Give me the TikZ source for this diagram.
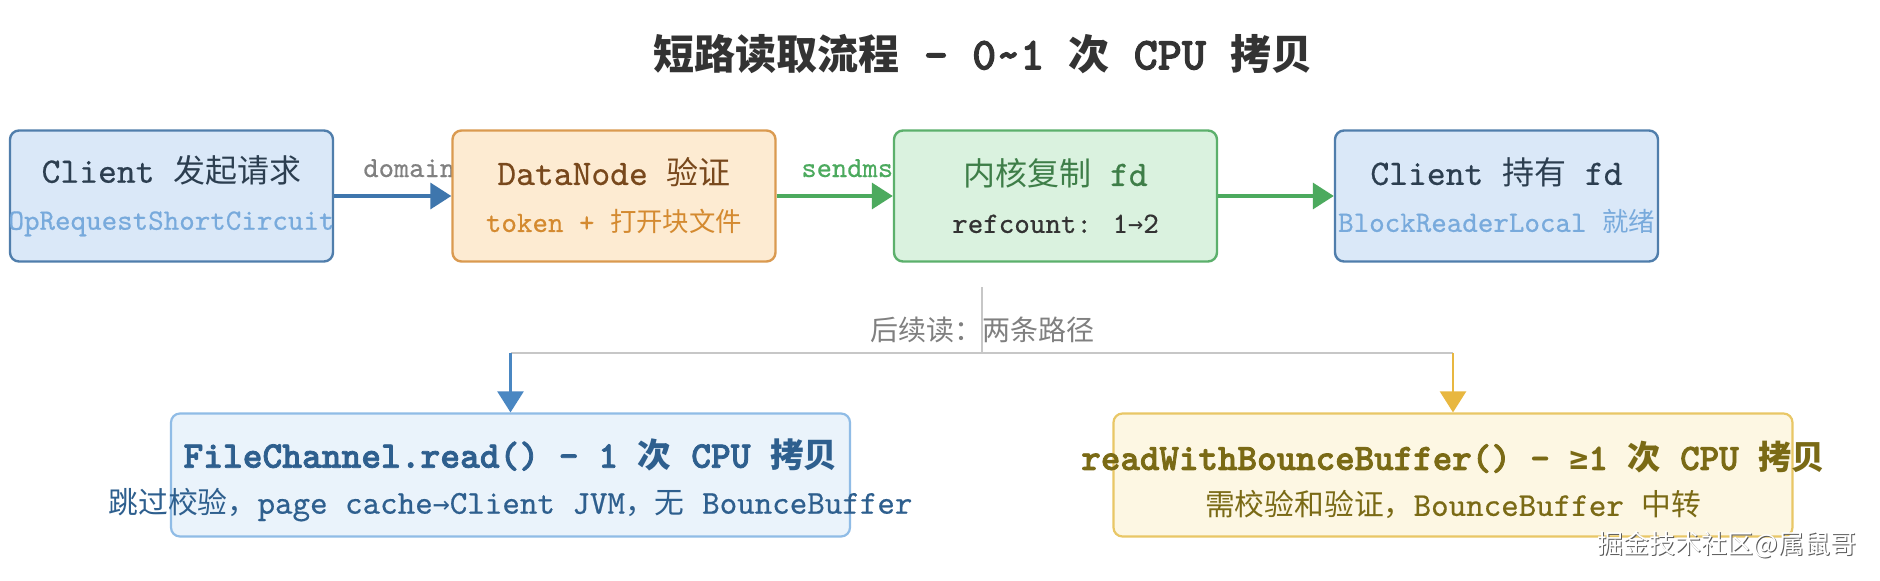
\documentclass[tikz,border=0pt]{standalone}
\usepackage{fontspec}
\setmainfont{lmmono10-regular.otf}[Scale=1.12,FakeBold=0.5,BoldFont=lmmonolt10-bold.otf,BoldFeatures={FakeBold=2}]
\newfontfamily\cjk{Noto Sans CJK SC}
\newfontfamily\symf{DejaVu Sans Mono}[Scale=0.95]
\usetikzlibrary{arrows.meta}
\definecolor{titlegray}{RGB}{51,51,51}
\definecolor{clientbg}{RGB}{218,232,248}
\definecolor{clientdraw}{RGB}{80,126,172}
\definecolor{clientdark}{RGB}{44,62,80}
\definecolor{clientsub}{RGB}{120,170,220}
\definecolor{nodebg}{RGB}{253,235,210}
\definecolor{nodedraw}{RGB}{218,154,80}
\definecolor{nodedark}{RGB}{120,72,28}
\definecolor{nodesub}{RGB}{212,138,48}
\definecolor{kernelbg}{RGB}{218,242,223}
\definecolor{kerneldraw}{RGB}{92,176,108}
\definecolor{kerneldark}{RGB}{62,126,72}
\colorlet{kernelsub}{titlegray}
\definecolor{arrowblue}{RGB}{62,118,173}
\definecolor{arrowgreen}{RGB}{76,170,94}
\definecolor{fastbg}{RGB}{234,243,251}
\definecolor{fastdraw}{RGB}{144,188,230}
\definecolor{fastdark}{RGB}{46,95,142}
\definecolor{fastarrow}{RGB}{74,135,194}
\definecolor{slowbg}{RGB}{253,247,227}
\definecolor{slowdraw}{RGB}{233,199,102}
\definecolor{slowdark}{RGB}{122,106,21}
\definecolor{slowarrow}{RGB}{232,183,64}
\colorlet{splitgray}{black!22}
\colorlet{labelgray}{black!50}
\newcommand\zh[1]{{\cjk #1}}
\newcommand\sym[1]{{\symf #1}}
\newcommand\oneline[1]{\makebox[0pt]{#1}}

\begin{document}
\begin{tikzpicture}[x=.5pt,y=.5pt,every node/.style={inner sep=0pt},
    box/.style={draw,line width=1.2pt,rounded corners=4.5pt,minimum width=161.5pt,minimum height=65.5pt,align=center,font=\fontsize{16}{19}\selectfont},
    wide/.style={box,line width=1.1pt,minimum width=339.5pt,minimum height=61.5pt},
    flow/.style={line width=1.7pt,-{Triangle[length=10.5pt,width=13pt]}},
    down/.style={line width=1.2pt,-{Triangle[length=10.5pt,width=13pt]}},
    note/.style={font=\fontsize{13}{15}\selectfont}]
  \useasboundingbox[fill=white] (0,0) rectangle (1880,580);
  \node[font=\bfseries\fontsize{20.5}{24}\selectfont,text=titlegray] (title) at (983,526) {\zh{短路读取流程} — 0\textasciitilde1 \zh{次} CPU \zh{拷贝}};
  % labels sit under the boxes, the boxes cut them off
  \node[note,text=labelgray,anchor=base west] (lbdomain) at (363,403) {domain};
  \node[note,text=arrowgreen,anchor=base west] (lbsend) at (801,403) {sendms};
  \node[box,fill=clientbg,draw=clientdraw] (req) at (171.5,384) {\oneline{\color{clientdark}Client \zh{发起请求}}\\[4.5pt]\oneline{\fontsize{13.2}{15}\selectfont\color{clientsub}OpRequestShortCircuit}};
  \node[box,fill=nodebg,draw=nodedraw] (dn) at (614,384) {\oneline{\color{nodedark}DataNode \zh{验证}}\\[4.5pt]\oneline{\fontsize{13.2}{15}\selectfont\color{nodesub}token + \zh{打开块文件}}};
  \node[box,fill=kernelbg,draw=kerneldraw] (dup) at (1055.5,384) {\oneline{\color{kerneldark}\zh{内核复制} fd}\\[4.5pt]\oneline{\fontsize{13.2}{15}\selectfont\color{kernelsub}refcount: 1\sym{→}2}};
  \node[box,fill=clientbg,draw=clientdraw] (hold) at (1496.5,384) {\oneline{\color{clientdark}Client \zh{持有} fd}\\[4.5pt]\oneline{\fontsize{13.2}{15}\selectfont\color{clientsub}BlockReaderLocal \zh{就绪}}};
  \draw[flow,draw=arrowblue,fill=arrowblue] (req) -- (dn);
  \draw[flow,draw=arrowgreen,fill=arrowgreen] (dn) -- (dup);
  \draw[flow,draw=arrowgreen,fill=arrowgreen] (dup) -- (hold);
  % two read paths
  \node[wide,fill=fastbg,draw=fastdraw] (fcread) at (510.5,105) {\oneline{\rule{0pt}{19.5pt}\bfseries\fontsize{16.8}{19}\selectfont\color{fastdark}FileChannel.read() — 1 \zh{次} CPU \zh{拷贝}}\\[4pt]\oneline{\fontsize{14.9}{17}\selectfont\color{fastdark}\zh{跳过校验，}page cache\sym{→}Client JVM\zh{，无} BounceBuffer}};
  \node[wide,fill=slowbg,draw=slowdraw] (bbread) at (1453,105) {\oneline{\rule{0pt}{19.5pt}\bfseries\fontsize{16.6}{19}\selectfont\color{slowdark}readWithBounceBuffer() — \sym{≥}1 \zh{次} CPU \zh{拷贝}}\\[4pt]\oneline{\fontsize{14.9}{17}\selectfont\color{slowdark}\zh{需校验和验证，}BounceBuffer \zh{中转}}};
  \node[font=\fontsize{14}{16}\selectfont,text=labelgray] (lbpaths) at (982,250) {\zh{后续读：两条路径}};
  \coordinate (fork) at (982,293);
  \coordinate (split) at (982,227);
  \draw[splitgray,line width=1pt] (fork) -- (split);
  \draw[splitgray,line width=1.2pt] (fcread.north |- split) -- (bbread.north |- split);
  \draw[down,draw=fastarrow,fill=fastarrow] (fcread.north |- split) -- (fcread);
  \draw[down,draw=slowarrow,fill=slowarrow] (bbread.north |- split) -- (bbread);
  \node[font=\cjk\fontsize{13}{15}\selectfont,text=black!65] (wmshadow) at (1728,34) {掘金技术社区@属鼠哥};
  \node[font=\cjk\fontsize{13}{15}\selectfont,text=white] (wm) at (1727,35) {掘金技术社区@属鼠哥};
\end{tikzpicture}
\end{document}
